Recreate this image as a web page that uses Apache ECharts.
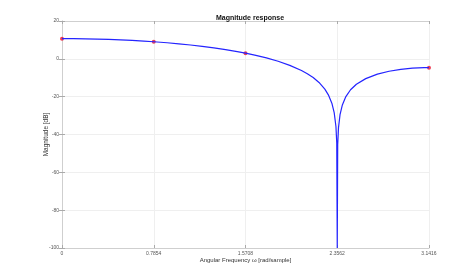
<!DOCTYPE html>
<html>
<head>
<meta charset="utf-8">
<script src="https://cdn.jsdelivr.net/npm/echarts@6/dist/echarts.min.js"></script>
<style>html,body{margin:0;padding:0;background:#fff}#c{width:474px;height:279px}</style>
</head>
<body>
<div id="c"></div>
<script>
var freq = [0, 0.1, 0.2, 0.3, 0.4, 0.5, 0.6, 0.7, 0.7854, 0.9, 1.0, 1.1, 1.2, 1.3, 1.4, 1.5, 1.5708,
  1.65, 1.75, 1.85, 1.95, 2.05, 2.1, 2.15, 2.2, 2.25, 2.28, 2.31, 2.33, 2.345, 2.352, 2.3562,
  2.36, 2.367, 2.38, 2.40, 2.43, 2.47, 2.52, 2.6, 2.7, 2.8, 2.9, 3.0, 3.1, 3.1416];
var magDb = [10.67, 10.64, 10.56, 10.44, 10.25, 10.02, 9.73, 9.38, 9.03, 8.49, 7.94, 7.32, 6.60, 5.80, 4.88, 3.84, 3.01,
  1.98, 0.49, -1.28, -3.44, -6.17, -7.86, -9.91, -12.50, -16.03, -19.02, -23.45, -28.44, -35.77, -44.5, -100,
  -45.37, -36.33, -29.52, -24.36, -19.95, -16.36, -13.41, -10.47, -8.09, -6.55, -5.55, -4.95, -4.67, -4.65];
var markFreq = [0, 0.7854, 1.5708, 3.1416];
var markDb = [10.67, 9.03, 3.01, -4.65];
var xTicks = [0, 0.7854, 1.5708, 2.3562, 3.1416];
var xTickLabels = ['0', '0.7854', '1.5708', '2.3562', '3.1416'];

var chart = echarts.init(document.getElementById('c'));
var axisColor = '#cfcfcf';
var labelColor = '#555';
var gridLine = {show: true, lineStyle: {color: '#efefef', width: 1}};
chart.setOption({
  animation: false,
  title: {
    text: 'Magnitude response', left: 245, top: 10, textAlign: 'center',
    textStyle: {fontSize: 7, fontWeight: 'bold', color: '#111', fontFamily: 'Liberation Sans'}
  },
  grid: {left: 62, right: 45, top: 21, bottom: 31},
  xAxis: [{
    type: 'value', min: 0, max: 3.1416,
    name: 'Angular Frequency \u03c9 [rad/sample]', nameLocation: 'middle', nameGap: 9, nameMoveOverlap: false,
    nameTextStyle: {fontSize: 6, color: '#333', fontFamily: 'Liberation Sans'},
    axisLine: {show: true, onZero: false, lineStyle: {color: axisColor}},
    axisTick: {show: true, inside: true, length: 3, lineStyle: {color: '#aaa'}, customValues: xTicks},
    axisLabel: {fontSize: 5, color: labelColor, margin: 3, customValues: xTicks,
      formatter: function (v) { var i = xTicks.indexOf(v); return i >= 0 ? xTickLabels[i] : ''; }},
    splitLine: gridLine
  }, {
    type: 'value', min: 0, max: 3.1416, position: 'top',
    axisLine: {show: true, onZero: false, lineStyle: {color: axisColor}},
    axisTick: {show: true, inside: true, length: 3, lineStyle: {color: '#aaa'}, customValues: xTicks},
    axisLabel: {show: false}, splitLine: {show: false}
  }],
  yAxis: [{
    type: 'value', min: -100, max: 20, interval: 20,
    name: 'Magnitude [dB]', nameLocation: 'middle', nameGap: 12, nameRotate: 90, nameMoveOverlap: false,
    nameTextStyle: {fontSize: 6.5, color: '#333', fontFamily: 'Liberation Sans'},
    axisLine: {show: true, lineStyle: {color: axisColor}},
    axisTick: {show: true, inside: true, length: 3, lineStyle: {color: '#aaa'}},
    axisLabel: {fontSize: 5, color: labelColor, margin: 3},
    splitLine: gridLine
  }, {
    type: 'value', min: -100, max: 20, interval: 20, position: 'right',
    axisLine: {show: true, lineStyle: {color: axisColor}},
    axisTick: {show: true, inside: true, length: 3, lineStyle: {color: '#aaa'}},
    axisLabel: {show: false}, splitLine: {show: false}
  }],
  series: [
    {
      type: 'line', data: freq.map(function (f, i) { return [f, magDb[i]]; }),
      showSymbol: false, smooth: false, clip: true,
      lineStyle: {color: '#2424ff', width: 1.2}
    },
    {
      type: 'scatter', data: markFreq.map(function (f, i) { return [f, markDb[i]]; }),
      symbol: 'circle', symbolSize: 4, clip: false,
      itemStyle: {color: '#e8112d'}
    }
  ]
});
</script>
</body>
</html>
